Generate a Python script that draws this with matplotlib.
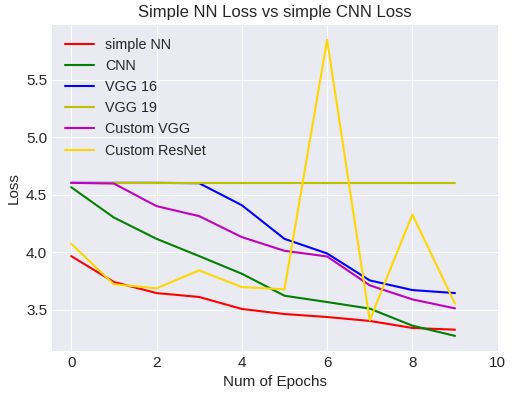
import matplotlib
matplotlib.use('Agg')
import matplotlib.pyplot as plt

plt.style.use('seaborn-v0_8-darkgrid')
plt.rcParams['font.family'] = ['Liberation Sans', 'DejaVu Sans']

epochs = list(range(10))
simple_nn = [3.968, 3.743, 3.647, 3.613, 3.509, 3.465, 3.439, 3.405, 3.344, 3.329]
cnn = [4.566, 4.303, 4.118, 3.968, 3.815, 3.624, 3.569, 3.512, 3.364, 3.275]
vgg16 = [4.604, 4.604, 4.604, 4.601, 4.410, 4.118, 3.991, 3.757, 3.673, 3.647]
vgg19 = [4.6052, 4.6052, 4.6052, 4.6052, 4.6052, 4.6052, 4.6052, 4.6052, 4.6052, 4.6052]
custom_vgg = [4.604, 4.598, 4.402, 4.315, 4.133, 4.014, 3.965, 3.714, 3.592, 3.514]
custom_resnet = [4.075, 3.723, 3.688, 3.844, 3.699, 3.679, 5.846, 3.410, 4.329, 3.555]

fig = plt.figure(figsize=(5.12, 3.97), dpi=100)
ax = fig.add_axes([0.1016, 0.1166, 0.8704, 0.8204])

ax.plot(epochs, simple_nn, color='r', lw=1.5, label='simple NN')
ax.plot(epochs, cnn, color='g', lw=1.5, label='CNN')
ax.plot(epochs, vgg16, color='b', lw=1.5, label='VGG 16')
ax.plot(epochs, vgg19, color='y', lw=1.5, label='VGG 19')
ax.plot(epochs, custom_vgg, color='m', lw=1.5, label='Custom VGG')
ax.plot(epochs, custom_resnet, color='gold', lw=1.5, label='Custom ResNet')

ax.set_xlim(right=10)
ax.tick_params(labelsize=11)
ax.set_title('Simple NN Loss vs simple CNN Loss', fontsize=12)
ax.set_xlabel('Num of Epochs', fontsize=11)
ax.set_ylabel('Loss', fontsize=11)
ax.legend(loc='upper left', fontsize=10.3)

fig.savefig('out.png', dpi=100)
